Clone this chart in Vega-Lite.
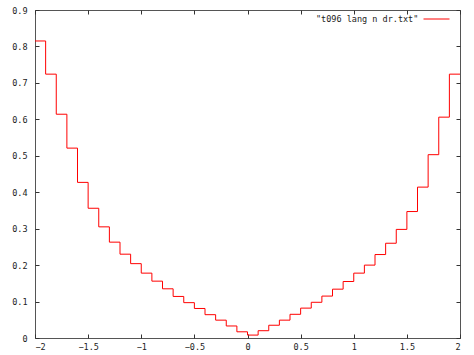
{
  "$schema": "https://vega.github.io/schema/vega-lite/v6.json",
  "width": 425,
  "height": 328,
  "autosize": {"type": "none"},
  "padding": {"left": 35, "top": 10, "right": 14, "bottom": 17},
  "background": "#ffffff",
  "config": {
    "view": {"stroke": "#555555", "strokeWidth": 1},
    "axis": {
      "domain": false,
      "grid": false,
      "ticks": true,
      "tickColor": "#333333",
      "tickSize": -4,
      "tickWidth": 1,
      "labelFont": "DejaVu Sans Mono",
      "labelFontSize": 8.5,
      "labelColor": "#222222",
      "title": null
    }
  },
  "data": {
    "values": [
      {"x": -2.0, "y": 0.815, "series": "\"t096 lang n dr.txt\""},
      {"x": -1.9, "y": 0.724, "series": "\"t096 lang n dr.txt\""},
      {"x": -1.8, "y": 0.614, "series": "\"t096 lang n dr.txt\""},
      {"x": -1.7, "y": 0.521, "series": "\"t096 lang n dr.txt\""},
      {"x": -1.6, "y": 0.427, "series": "\"t096 lang n dr.txt\""},
      {"x": -1.5, "y": 0.356, "series": "\"t096 lang n dr.txt\""},
      {"x": -1.4, "y": 0.305, "series": "\"t096 lang n dr.txt\""},
      {"x": -1.3, "y": 0.263, "series": "\"t096 lang n dr.txt\""},
      {"x": -1.2, "y": 0.230, "series": "\"t096 lang n dr.txt\""},
      {"x": -1.1, "y": 0.204, "series": "\"t096 lang n dr.txt\""},
      {"x": -1.0, "y": 0.178, "series": "\"t096 lang n dr.txt\""},
      {"x": -0.9, "y": 0.156, "series": "\"t096 lang n dr.txt\""},
      {"x": -0.8, "y": 0.135, "series": "\"t096 lang n dr.txt\""},
      {"x": -0.7, "y": 0.114, "series": "\"t096 lang n dr.txt\""},
      {"x": -0.6, "y": 0.097, "series": "\"t096 lang n dr.txt\""},
      {"x": -0.5, "y": 0.081, "series": "\"t096 lang n dr.txt\""},
      {"x": -0.4, "y": 0.064, "series": "\"t096 lang n dr.txt\""},
      {"x": -0.3, "y": 0.049, "series": "\"t096 lang n dr.txt\""},
      {"x": -0.2, "y": 0.033, "series": "\"t096 lang n dr.txt\""},
      {"x": -0.1, "y": 0.017, "series": "\"t096 lang n dr.txt\""},
      {"x": 0.0, "y": 0.008, "series": "\"t096 lang n dr.txt\""},
      {"x": 0.1, "y": 0.020, "series": "\"t096 lang n dr.txt\""},
      {"x": 0.2, "y": 0.035, "series": "\"t096 lang n dr.txt\""},
      {"x": 0.3, "y": 0.049, "series": "\"t096 lang n dr.txt\""},
      {"x": 0.4, "y": 0.065, "series": "\"t096 lang n dr.txt\""},
      {"x": 0.5, "y": 0.082, "series": "\"t096 lang n dr.txt\""},
      {"x": 0.6, "y": 0.098, "series": "\"t096 lang n dr.txt\""},
      {"x": 0.7, "y": 0.115, "series": "\"t096 lang n dr.txt\""},
      {"x": 0.8, "y": 0.134, "series": "\"t096 lang n dr.txt\""},
      {"x": 0.9, "y": 0.155, "series": "\"t096 lang n dr.txt\""},
      {"x": 1.0, "y": 0.178, "series": "\"t096 lang n dr.txt\""},
      {"x": 1.1, "y": 0.200, "series": "\"t096 lang n dr.txt\""},
      {"x": 1.2, "y": 0.229, "series": "\"t096 lang n dr.txt\""},
      {"x": 1.3, "y": 0.260, "series": "\"t096 lang n dr.txt\""},
      {"x": 1.4, "y": 0.298, "series": "\"t096 lang n dr.txt\""},
      {"x": 1.5, "y": 0.347, "series": "\"t096 lang n dr.txt\""},
      {"x": 1.6, "y": 0.414, "series": "\"t096 lang n dr.txt\""},
      {"x": 1.7, "y": 0.503, "series": "\"t096 lang n dr.txt\""},
      {"x": 1.8, "y": 0.606, "series": "\"t096 lang n dr.txt\""},
      {"x": 1.9, "y": 0.724, "series": "\"t096 lang n dr.txt\""},
      {"x": 2.0, "y": 0.724, "series": "\"t096 lang n dr.txt\""}
    ]
  },
  "layer": [
    {
      "mark": {"type": "line", "interpolate": "step-after", "strokeWidth": 1},
      "encoding": {
        "x": {
          "field": "x", "type": "quantitative",
          "scale": {"domain": [-2, 2], "nice": false, "zero": false},
          "axis": {"orient": "bottom", "values": [-2, -1.5, -1, -0.5, 0, 0.5, 1, 1.5, 2], "format": ".1~f", "labelPadding": 8}
        },
        "y": {
          "field": "y", "type": "quantitative",
          "scale": {"domain": [0, 0.9], "nice": false, "zero": true},
          "axis": {"orient": "left", "values": [0, 0.1, 0.2, 0.3, 0.4, 0.5, 0.6, 0.7, 0.8, 0.9], "format": ".1~f", "labelPadding": 12}
        },
        "color": {
          "field": "series", "type": "nominal",
          "scale": {"range": ["#ff0000"]},
          "legend": {
            "orient": "none",
            "legendX": 280,
            "legendY": -4.5,
            "padding": 0,
            "title": null,
            "symbolType": "stroke",
            "symbolSize": 676,
            "symbolStrokeWidth": 1,
            "symbolStrokeColor": "#ff0000",
            "symbolOffset": 108,
            "labelFont": "DejaVu Sans Mono",
            "labelFontSize": 8.5,
            "labelColor": "#222222",
            "labelOffset": -134
          }
        }
      }
    },
    {
      "mark": {"type": "line", "interpolate": "step-after", "opacity": 0},
      "encoding": {
        "x": {
          "field": "x", "type": "quantitative",
          "scale": {"domain": [-2, 2], "nice": false, "zero": false},
          "axis": {"orient": "top", "values": [-2, -1.5, -1, -0.5, 0, 0.5, 1, 1.5, 2], "labels": false}
        },
        "y": {
          "field": "y", "type": "quantitative",
          "scale": {"domain": [0, 0.9], "nice": false, "zero": true},
          "axis": {"orient": "right", "values": [0, 0.1, 0.2, 0.3, 0.4, 0.5, 0.6, 0.7, 0.8, 0.9], "labels": false}
        }
      }
    }
  ],
  "resolve": {"axis": {"x": "independent", "y": "independent"}}
}
